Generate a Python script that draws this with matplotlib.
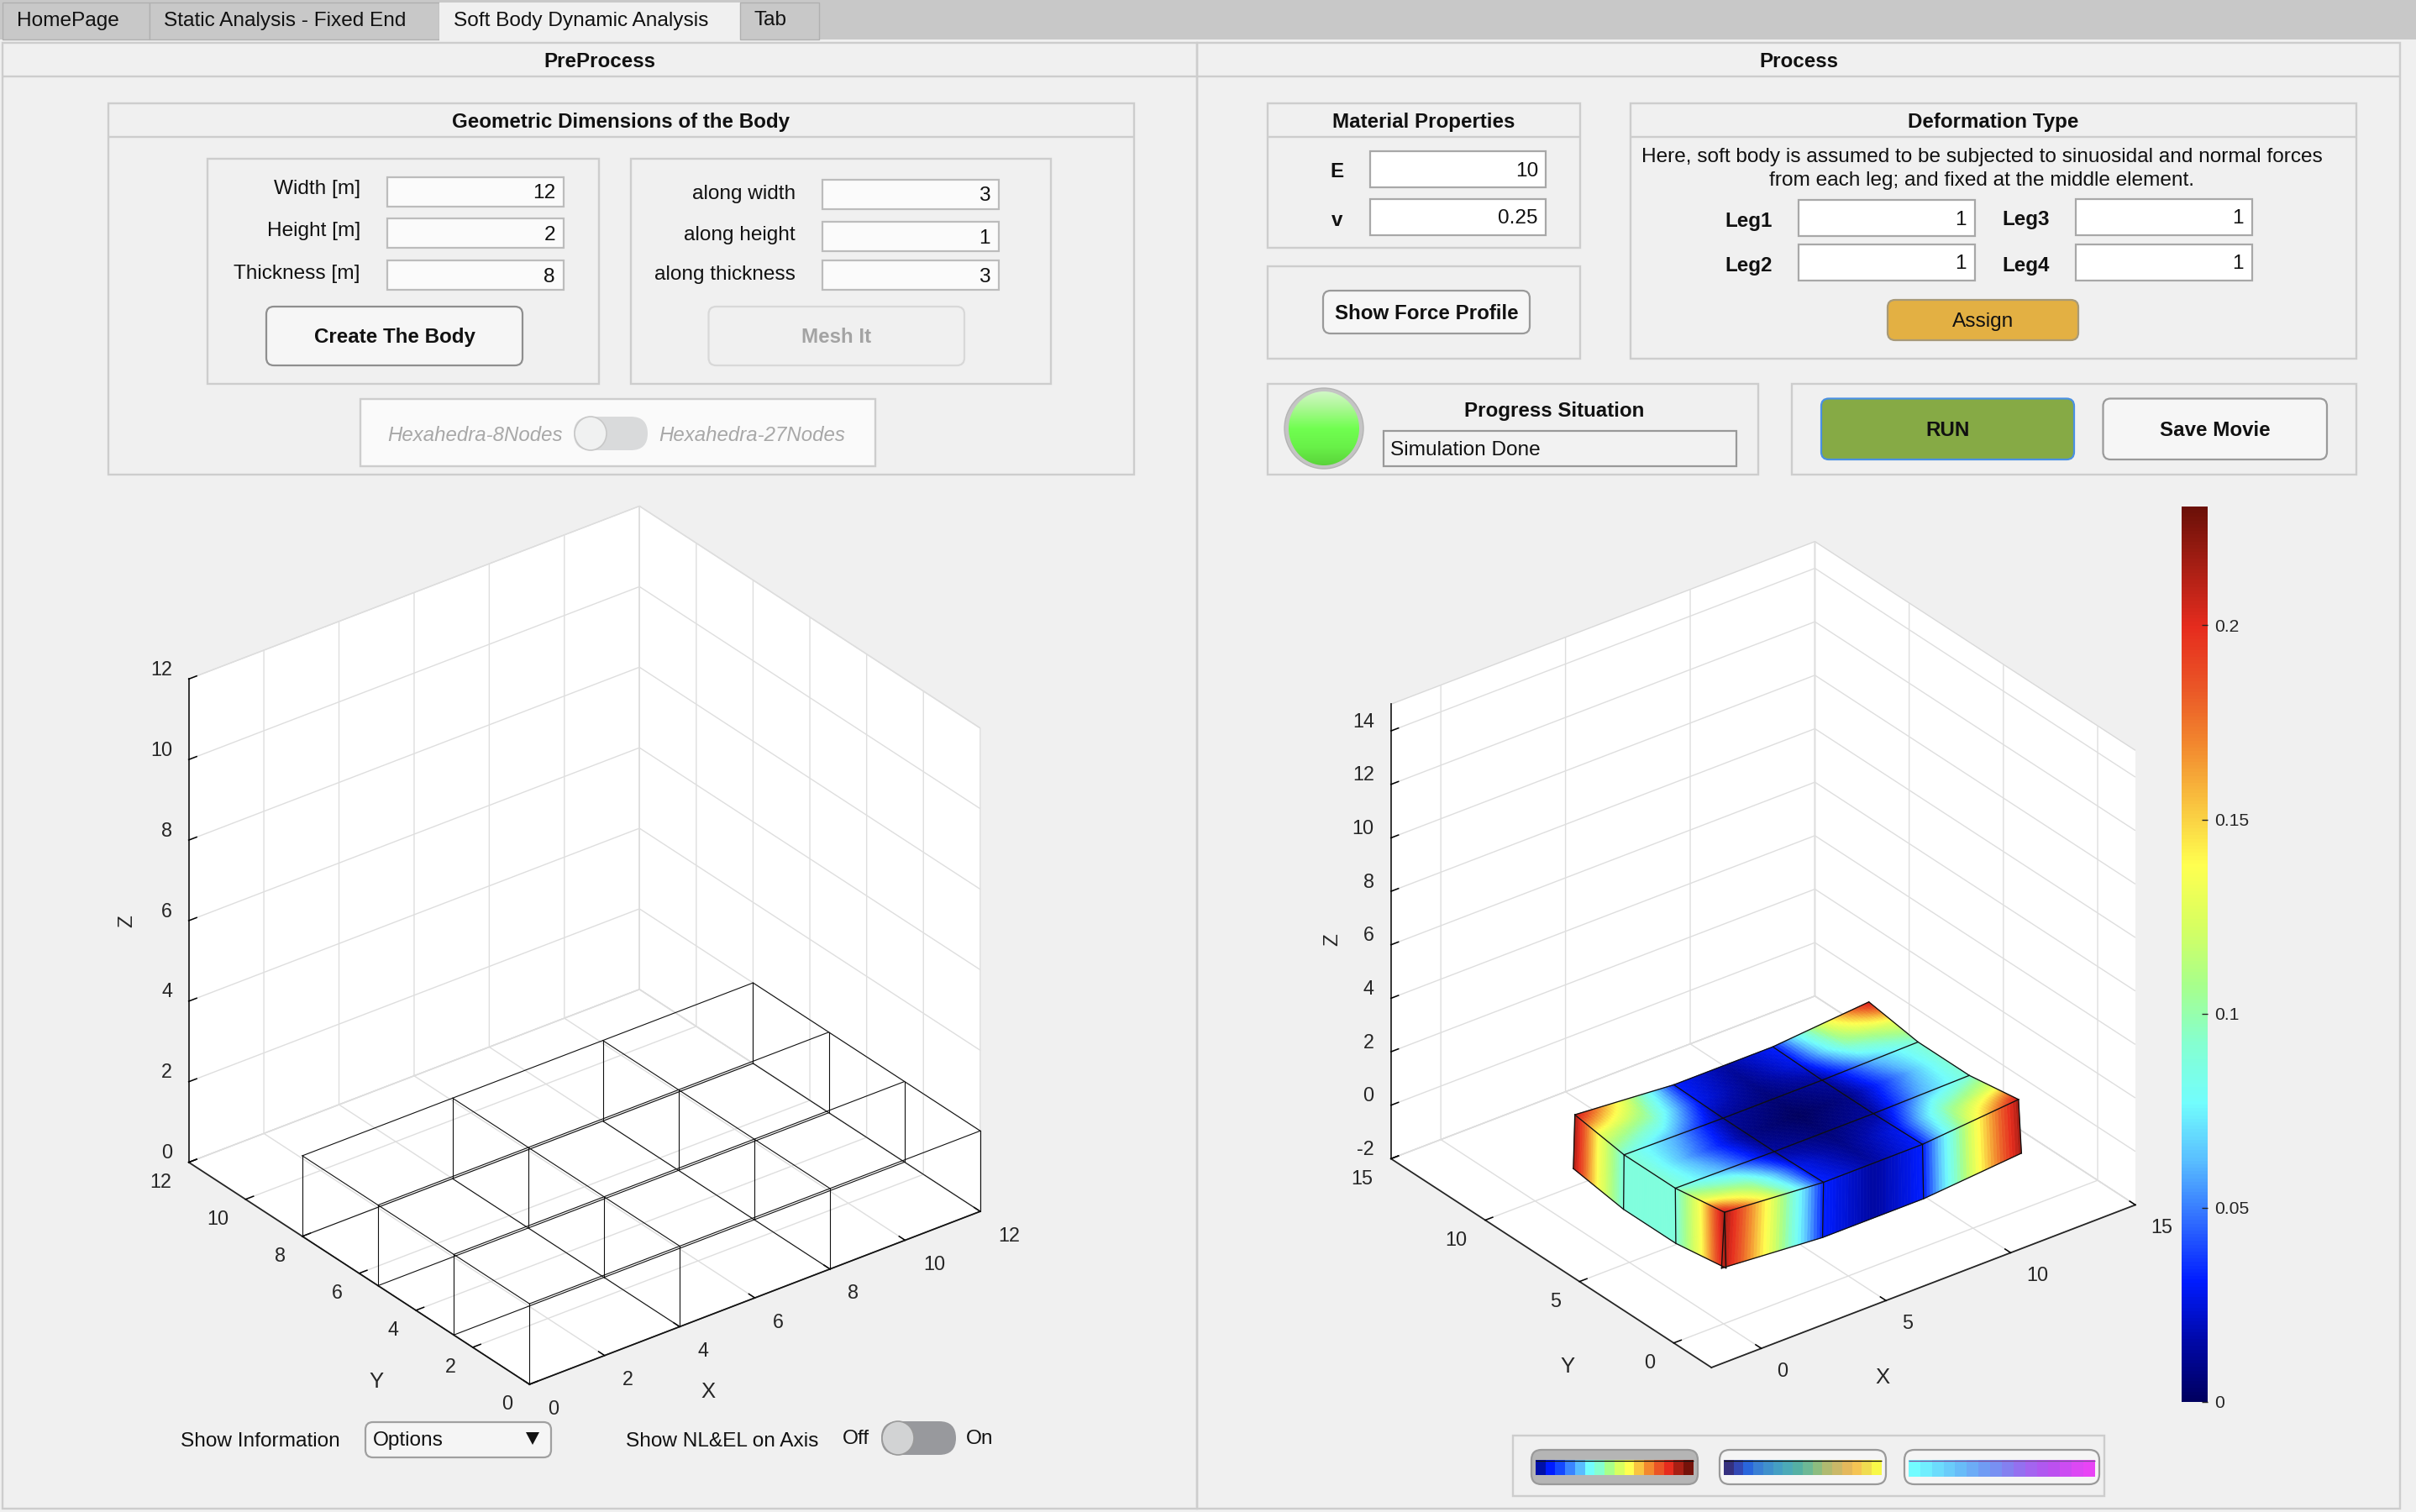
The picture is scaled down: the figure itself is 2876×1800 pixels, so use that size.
import numpy as np
import matplotlib
matplotlib.use("Agg")
import matplotlib.pyplot as plt
from matplotlib.patches import FancyBboxPatch, Rectangle, Ellipse, Polygon
from matplotlib.colors import LinearSegmentedColormap, ListedColormap, Normalize
from matplotlib.cm import ScalarMappable
from mpl_toolkits.mplot3d import proj3d

plt.rcParams['font.family'] = ['Liberation Sans', 'DejaVu Sans']
W, H = 2876, 1800

# ---- data ----
tab_names = ["HomePage", "Static Analysis - Fixed End", "Soft Body Dynamic Analysis", "Tab"]
geom_labels = ["Width [m]", "Height [m]", "Thickness [m]"]
geom_values = ["12", "2", "8"]
mesh_labels = ["along width", "along height", "along thickness"]
mesh_values = ["3", "1", "3"]
leg_labels = ["Leg1", "Leg2", "Leg3", "Leg4"]
leg_values = ["1", "1", "1", "1"]

left_ticks = [0, 2, 4, 6, 8, 10, 12]
right_xy_ticks = [0, 5, 10, 15]
right_z_ticks = [-2, 0, 2, 4, 6, 8, 10, 12, 14]
cbar_ticks = [0, 0.05, 0.1, 0.15, 0.2]
cbar_tick_labels = ["0", "0.05", "0.1", "0.15", "0.2"]
cbar_max = 0.2306

# undeformed mesh (left plot)
mesh_x = [0, 4, 8, 12]
mesh_y = [0, 8/3, 16/3, 8]
mesh_z = [0, 2]

# deformed body (right plot)
body_x = [0.15, 4.12, 8.09, 11.94]
body_y = [0.15, 2.76, 5.48, 8.09]
body_height = 2.05
bottom_flare = 1.02
body_sag = [[0.0, -0.3, -0.3, 0.0],
            [-0.3, -0.35, -0.35, -0.3],
            [-0.3, -0.35, -0.35, -0.3],
            [0.0, -0.3, -0.3, 0.0]]
# colour values at element corners and mid-points, top face [x index, y index]
top_values = [[.210, .130, .090, .090, .090, .130, .210],
              [.125, .100, .060, .048, .060, .100, .125],
              [.032, .028, .014, .008, .014, .028, .032],
              [.014, .010, .005, .000, .005, .010, .014],
              [.032, .028, .014, .008, .014, .028, .032],
              [.125, .100, .060, .048, .060, .100, .125],
              [.210, .130, .090, .090, .090, .130, .210]]
side_x0_bottom = [.228, .135, .088, .088, .088, .135, .228]
side_x0_top = [.205, .135, .088, .088, .088, .135, .205]
side_y0_bottom = [.228, .125, .032, .014, .032, .125, .228]
side_y0_top = [.205, .125, .032, .014, .032, .125, .205]

jet_colors = ['#000060', '#0008a8', '#001cff', '#2f6bff', '#58bcff', '#72fdfd', '#85ffd0', '#a8ff8a',
              '#d8ff60', '#ffff50', '#f9c540', '#f2892f', '#ea5526', '#e62c1e', '#a81f14', '#6b1008']
swatch_jet = ['#0010a8', '#001cff', '#1448ff', '#3a84ff', '#58bcff', '#72fdfd', '#85ffd0', '#a8ff8a',
              '#d8ff60', '#ffff50', '#f9c540', '#f2892f', '#ea5526', '#e62c1e', '#a81f14', '#75120a']
swatch_parula = ['#35307f', '#3348b4', '#2a66dc', '#3a7fd4', '#4090cc', '#459fc4', '#4caab8', '#55b0a4',
                 '#6db896', '#8cbc80', '#b0ba70', '#cab868', '#e4b85c', '#f5c454', '#f0dc50', '#f8f848']
swatch_cool = ['#72fcff', '#70eefe', '#6cdcfc', '#6accfa', '#68bcf8', '#6cacf6', '#709cf4', '#7890f2',
               '#8480f0', '#9470f0', '#a464f0', '#b058f0', '#bc50f0', '#cc4cf2', '#dc48f4', '#e844f5']
lamp_colors = ['#d6f7cc', '#a8f890', '#70ff50', '#68f048', '#58d038']

# ---- helpers ----
BG = '#f0f0f0'
EDGE = '#cdcdcd'
fig = plt.figure(figsize=(W/100, H/100), dpi=100, facecolor=BG)
ui = fig.add_axes([0, 0, 1, 1], zorder=0)
ui.set_axis_off()
FS = 17.55
FSB = 17.35

def txt(x, y, s, ha='center', size=None, weight='normal', color='#111111', style='normal', rot=0):
    if size is None:
        size = FSB if weight == 'bold' else FS
    ui.text(x, y+1.5, s, ha=ha, va='center', fontsize=size, fontweight=weight, color=color, style=style, rotation=rot)

def panel(x0, y0, x1, y1, fc='none', header=None, title=None, lw=1.7):
    ui.add_patch(Rectangle((x0, y0), x1-x0, y1-y0, fc=fc, ec=EDGE, lw=lw))
    if header:
        ui.plot([x0, x1], [header, header], color=EDGE, lw=lw, solid_capstyle='butt')
        txt((x0+x1)/2, (y0+header)/2 + 1, title, weight='bold')

def edit(x0, y0, x1, y1, val, tx=None, ty=None, fc='#fbfbfb', ec='#bcbcbc', lw=1.6):
    ui.add_patch(Rectangle((x0, y0), x1-x0, y1-y0, fc=fc, ec=ec, lw=lw))
    txt(tx if tx else x1-10, ty if ty else (y0+y1)/2, val, ha='right')

def button(x0, y0, x1, y1, s, fc='#f6f6f6', ec='#9a9a9a', color='#111111', weight='bold', r=9, lw=1.6):
    ui.add_patch(FancyBboxPatch((x0, y0), x1-x0, y1-y0, boxstyle=f"round,pad=0,rounding_size={r}", fc=fc, ec=ec, lw=lw))
    if s:
        txt((x0+x1)/2, (y0+y1)/2, s, weight=weight, color=color)

def toggle(x0, y0, x1, y1, track, thumb, ec):
    h = y1-y0
    ui.add_patch(FancyBboxPatch((x0, y0), x1-x0, h, boxstyle=f"round,pad=0,rounding_size={h/2}", fc=track, ec='none'))
    ui.add_patch(Ellipse((x0+h/2, (y0+y1)/2), h*0.95, h, fc=thumb, ec=ec, lw=1.2))

# ---- window chrome ----
ui.add_patch(Rectangle((0, 0), W, 47, fc='#c8c8c8', ec='none'))
tab_edges = [3, 178, 523, 881, 975]
for i, name in enumerate(tab_names):
    x0, x1 = tab_edges[i], tab_edges[i+1]
    active = i == 2
    ui.add_patch(Rectangle((x0, 3), x1-x0, 44 if not active else 48, fc=BG if active else '#c8c8c8', ec='none' if active else '#b0b0b0', lw=1.0))
    txt(x0+17, 23, name, ha='left')
panel(3, 51, 1425, 1796, header=91, title="PreProcess")
panel(1425, 51, 2857, 1796, header=91, title="Process")

# ---- preprocess widgets ----
panel(129, 123, 1350, 565, header=163, title="Geometric Dimensions of the Body")
panel(247, 189, 713, 457)
panel(751, 189, 1251, 457)
for lab, val, by0, ly, vy in zip(geom_labels, geom_values, [210.5, 260, 310], [224, 274, 324.5], [228, 278, 328]):
    txt(429, ly, lab, ha='right')
    edit(460.5, by0, 671, by0+35, val, ty=vy)
for lab, val, by0, ly, vy in zip(mesh_labels, mesh_values, [214, 264, 310], [229, 278.6, 325], [231.5, 282, 328]):
    txt(947, ly, lab, ha='right')
    edit(978.5, by0, 1189, by0+35, val, ty=vy)
button(317, 365, 622, 435, "Create The Body", ec='#8f8f8f')
button(843.5, 365, 1148, 435, "Mesh It", ec='#d8d8d8', fc=BG, color='#a3a3a3')
panel(429, 475, 1042, 555, fc='#fafafa')
txt(670, 517, "Hexahedra-8Nodes", ha='right', style='italic', color='#a8a8a8', size=17.3)
txt(784, 517, "Hexahedra-27Nodes", ha='left', style='italic', color='#a8a8a8', size=17.3)
toggle(683, 496, 771, 536, '#d9dadb', '#f0f1f1', '#c8c8c8')

# bottom-left controls
txt(215, 1714, "Show Information", ha='left')
button(435, 1693, 656, 1735, "", fc='#f5f5f5', ec='#a0a0a0')
txt(444, 1714, "Options", ha='left')
ui.add_patch(Polygon([(626, 1705), (642, 1705), (634, 1720)], closed=True, fc='#111111', ec='none'))
txt(745, 1714, "Show NL&EL on Axis", ha='left')
txt(1003, 1711.5, "Off", ha='left')
txt(1150, 1711.5, "On", ha='left')
toggle(1049, 1692, 1138, 1732, '#98999d', '#d2d3d4', '#9a9a9a')

# ---- process widgets ----
panel(1509, 123, 1881, 295, header=163, title="Material Properties")
txt(1591, 203, "E", weight='bold')
txt(1592, 261, "v", weight='bold')
edit(1631, 180, 1839.5, 223, "10", tx=1831, ty=202, fc='white', ec='#a8a8a8')
edit(1631, 236.5, 1839.5, 279.5, "0.25", tx=1831, ty=258, fc='white', ec='#a8a8a8')
panel(1509, 317, 1881, 427)
button(1575, 346, 1821, 397, "Show Force Profile")
panel(1941, 123, 2805, 427, header=163, title="Deformation Type")
txt(2359, 186, "Here, soft body is assumed to be subjected to sinuosidal and normal forces")
txt(2359, 214, "from each leg; and fixed at the middle element.")
leg_boxes = [(2141, 238), (2141, 291), (2471, 236.5), (2471, 291)]
leg_ly = [262, 314.6, 260, 314.6]
leg_lx = [2110, 2110, 2440, 2440]
leg_vy = [260, 312, 258, 312]
for lab, val, (bx, by), ly, lx, vy in zip(leg_labels, leg_values, leg_boxes, leg_ly, leg_lx, leg_vy):
    txt(lx, ly, lab, ha='right', weight='bold')
    edit(bx, by, bx+210, by+43, val, ty=vy, fc='white', ec='#a8a8a8')
button(2247, 357, 2474, 405, "Assign", fc='#e3b043', ec='#a89a78', weight='normal')
panel(1509, 457, 2093, 565)
panel(2133, 457, 2805, 565)
ui.add_patch(Ellipse((1576, 510), 94, 96, fc='#c4c4c4', ec='#b4b4b4', lw=1.0))
lamp_im = ui.imshow(np.linspace(0, 1, 64)[:, None], extent=(1530, 1622, 557, 463), aspect='auto',
                    cmap=LinearSegmentedColormap.from_list('lamp', lamp_colors), zorder=3)
lamp_clip = Ellipse((1576, 510), 84, 88, transform=ui.transData)
lamp_im.set_clip_path(lamp_clip)
txt(1850, 488, "Progress Situation", weight='bold')
ui.add_patch(Rectangle((1647, 513), 420, 42, fc='#f2f2f2', ec='#999999', lw=1.6))
txt(1655, 534, "Simulation Done", ha='left')
button(2168, 474.5, 2469, 547, "RUN", fc='#86aa45', ec='#4a90e2')
button(2503.5, 474.5, 2770, 547, "Save Movie")

# colormap selector
panel(1801, 1709, 2505, 1781)
button(1823, 1726, 2021, 1767, "", fc='#b5b5b5', ec='#9a9a9a', r=12)
button(2047, 1726, 2245, 1767, "", fc='#f5f5f5', ec='#9a9a9a', r=12)
button(2267, 1726, 2499, 1767, "", fc='#f5f5f5', ec='#9a9a9a', r=12)
for cols, (x0, x1, y1), lc in zip([swatch_jet, swatch_parula, swatch_cool],
                                  [(1828, 2016, 1756), (2052, 2240, 1756), (2272, 2494, 1758)],
                                  ['#111111', '#111111', '#7a4a9a']):
    ui.imshow(np.arange(len(cols))[None, :], extent=(x0, x1, y1, 1738), aspect='auto',
              cmap=ListedColormap(cols), interpolation='nearest', zorder=3)
    ui.plot([x0, x1], [1738.5, 1738.5], color=lc, lw=0.9, zorder=4, solid_capstyle='butt')
ui.set_xlim(0, W)
ui.set_ylim(H, 0)

# overlay for axis texts (positions come from the 3D axes' projection)
overlay = fig.add_axes([0, 0, 1, 1], zorder=5)
overlay.set_axis_off()
overlay.set_xlim(0, W)
overlay.set_ylim(H, 0)

# ---- 3D axes ----
AXC = '#262626'
GRID = '#dedede'
TICKFS = 16.8

def make3d(xlim, ylim, zlim, xt, yt, zt):
    ax = fig.add_axes([0.1, 0.1, 0.4, 0.4*W/H], projection='3d', computed_zorder=False, zorder=2)
    ax.set_proj_type('ortho')
    ax.view_init(elev=30, azim=-127.5)
    ax.set_box_aspect((677, 667, 665))
    ax.set_xlim(*xlim); ax.set_ylim(*ylim); ax.set_zlim(*zlim)
    ax.set_xticks(xt); ax.set_yticks(yt); ax.set_zticks(zt)
    ax.set_xticklabels([]); ax.set_yticklabels([]); ax.set_zticklabels([])
    ax.patch.set_alpha(0)
    for a in (ax.xaxis, ax.yaxis, ax.zaxis):
        a.set_pane_color('white')
        a.pane.set_edgecolor('#d9d9d9')
        a.pane.set_linewidth(1.0)
        a.line.set_color(AXC)
        a.line.set_linewidth(1.3)
        a._axinfo['grid'].update(color=GRID, linewidth=1.0)
        a._axinfo['tick'].update(inward_factor=0.0, outward_factor=0.22, linewidth={True: 1.1, False: 1.0}, color=AXC)
    return ax

def fit(ax, a_data, a_px, b_data, b_px):
    M = ax.get_proj()
    ax.apply_aspect()
    def frac(p):
        xp, yp, _ = proj3d.proj_transform(p[0], p[1], p[2], M)
        return ax.transAxes.inverted().transform(ax.transData.transform((xp, yp)))
    fa, fb = frac(a_data), frac(b_data)
    L = abs((a_px[1]-b_px[1])/(fa[1]-fb[1]))
    left = a_px[0]-L*fa[0]
    bottom = (H-a_px[1])-L*fa[1]
    ax.set_position([left/W, bottom/H, L/W, L/H])

def axis_text(ax, x, y, z, s, ha='center', size=TICKFS, rot=0):
    xp, yp, _ = proj3d.proj_transform(x, y, z, ax.get_proj())
    dx, dy = ax.transData.transform((xp, yp))
    overlay.text(dx, H-dy, s, fontsize=size, ha=ha, va='center', rotation=rot, color='#262626')

# left: undeformed wire mesh
ax1 = make3d((0, 12), (0, 12), (0, 12), left_ticks, left_ticks, left_ticks)
fit(ax1, (0, 0, 0), (630.3, 1648), (12, 12, 12), (762, 602.5))
mk = dict(color='#111111', lw=0.8, zorder=5)
for zv in mesh_z:
    for yv in mesh_y:
        ax1.plot([mesh_x[0], mesh_x[-1]], [yv, yv], [zv, zv], **mk)
    for xv in mesh_x:
        ax1.plot([xv, xv], [mesh_y[0], mesh_y[-1]], [zv, zv], **mk)
for xv in mesh_x:
    for yv in mesh_y:
        ax1.plot([xv, xv], [yv, yv], mesh_z, **mk)
for t in left_ticks:
    axis_text(ax1, t-.33, -1.07, 0, str(t), ha='left')
    axis_text(ax1, -.80, t-.46, 0, str(t), ha='right')
    axis_text(ax1, -.276, 12.214, t+.23, str(t), ha='right')
axis_text(ax1, 2.8, -2.6, 0, "X", size=FS+1)
axis_text(ax1, -2.5, 2.1, 0, "Y", size=FS+1)
axis_text(ax1, -1.03, 12.8, 6, "Z", size=FS, rot=90)

# right: deformed body
ax2 = make3d((-2, 15), (-2, 15), (-2, 15), right_xy_ticks, right_xy_ticks, right_z_ticks)
fit(ax2, (-2, -2, -2), (2037.3, 1628), (15, 15, 15), (2160, 644.7))
cmap = LinearSegmentedColormap.from_list('softjet', jet_colors, N=256)
norm = Normalize(0, cbar_max)
SUB = 16
top_arr = np.array(top_values)
sag_arr = np.array(body_sag)
n_fine = 6*SUB+1
u_fine = np.linspace(0, 6, n_fine)
node_half = np.arange(7)
node_full = np.arange(4)*2

def resample_1d(v, src):
    return np.interp(u_fine, src, v)

def resample_2d(arr, src):
    a = np.array([resample_1d(row, src) for row in arr])
    return np.array([resample_1d(col, src) for col in a.T]).T

XF = resample_1d(body_x, node_full)
YF = resample_1d(body_y, node_full)
XB = XF.mean() + (XF-XF.mean())*bottom_flare
YB = YF.mean() + (YF-YF.mean())*bottom_flare
SAG = resample_2d(sag_arr, node_full)
VAL = resample_2d(top_arr, node_half)
XG, YG = np.meshgrid(XF, YF, indexing='ij')

def surf(X, Y, Z, V, zo):
    ax2.plot_surface(X, Y, Z, facecolors=cmap(norm(0.25*(V[:-1, :-1]+V[1:, :-1]+V[:-1, 1:]+V[1:, 1:]))),
                     rstride=1, cstride=1, shade=False, linewidth=0.5, antialiased=True, zorder=zo)

surf(XG, YG, SAG+body_height, VAL, 3)
V_y0 = np.vstack([resample_1d(side_y0_bottom, node_half), resample_1d(side_y0_top, node_half)]).T
surf(np.column_stack([XB, XF]), np.column_stack([YF[0]*np.ones(n_fine)]*2),
     np.column_stack([SAG[:, 0], SAG[:, 0]+body_height]), V_y0, 3)
V_x0 = np.vstack([resample_1d(side_x0_bottom, node_half), resample_1d(side_x0_top, node_half)]).T
surf(np.column_stack([XF[0]*np.ones(n_fine)]*2), np.column_stack([YB, YF]),
     np.column_stack([SAG[0, :], SAG[0, :]+body_height]), V_x0, 3)

ek = dict(color='#101010', lw=0.95, zorder=6)
idx = [0, SUB*2, SUB*4, SUB*6]
for i in idx:
    ax2.plot(XG[i, :], YG[i, :], SAG[i, :]+body_height, **ek)
    ax2.plot(XG[:, i], YG[:, i], SAG[:, i]+body_height, **ek)
    ax2.plot([XB[i], XF[i]], [YF[0]]*2, [SAG[i, 0], SAG[i, 0]+body_height], **ek)
    ax2.plot([XF[0]]*2, [YB[i], YF[i]], [SAG[0, i], SAG[0, i]+body_height], **ek)
ax2.plot(XB, YG[:, 0], SAG[:, 0], **ek)
ax2.plot(XG[0, :], YB, SAG[0, :], **ek)
for t in right_xy_ticks:
    axis_text(ax2, t-.48, -3.47, -2, str(t), ha='left')
    axis_text(ax2, -3.245, t-.67, -2, str(t), ha='right')
for t in right_z_ticks:
    axis_text(ax2, -2.43, 15.33, t+.345, str(t), ha='right')
axis_text(ax2, 1.93, -5.9, -2, "X", size=FS+1)
axis_text(ax2, -5.59, .89, -2, "Y", size=FS+1)
axis_text(ax2, -3.48, 16.14, 6.2, "Z", size=FS, rot=90)

# colour bar
cax = fig.add_axes([2597/W, 1-1669/H, 31/W, (1669-603)/H], zorder=3)
cb = fig.colorbar(ScalarMappable(norm=norm, cmap=cmap), cax=cax)
cb.set_ticks(cbar_ticks)
cb.set_ticklabels(cbar_tick_labels)
cb.outline.set_visible(False)
cax.tick_params(labelsize=15.2, direction='in', length=5, width=1, color='#262626', labelcolor='#262626', pad=6)

fig.savefig('out.png', dpi=100, facecolor=BG)
